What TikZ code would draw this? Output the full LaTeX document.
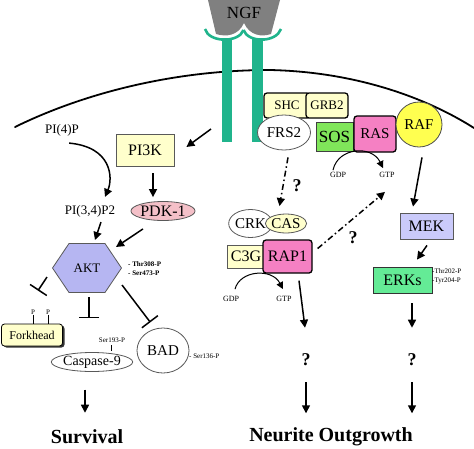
\documentclass[tikz,border=0pt]{standalone}
\usepackage{fontspec}
\setmainfont{Liberation Serif}
\usetikzlibrary{arrows.meta,calc,shapes.geometric}
\definecolor{rec}{RGB}{32,180,140}
\definecolor{ngfgray}{RGB}{128,128,128}
\definecolor{lyellow}{RGB}{255,255,204}
\definecolor{pdkpink}{RGB}{244,192,200}
\definecolor{aktblue}{RGB}{182,182,242}
\definecolor{sosgreen}{RGB}{128,230,90}
\definecolor{raspink}{RGB}{245,128,195}
\definecolor{rafyellow}{RGB}{255,255,80}
\definecolor{meklav}{RGB}{202,202,250}
\definecolor{erkgreen}{RGB}{100,235,150}
\newcommand\fz[1]{\fontsize{#1}{#1}\selectfont}
\tikzset{
  arr/.style={line width=1.5pt,-{Triangle[length=8pt,width=8pt]}},
  inh/.style={line width=1.5pt,-{Bar[width=20pt,line width=1.5pt]}},
  dd/.style={line width=1.5pt,dash pattern=on 6pt off 3pt on 1.5pt off 3pt,-{Triangle[length=8pt,width=8pt]}},
  thin/.style={line width=1pt,-{Triangle[length=7pt,width=7pt]}},
  boxn/.style={draw=black!65,line width=0.8pt,inner sep=0pt,text=black},
  darkbox/.style={draw=black,line width=1.3pt,inner sep=0pt,rounded corners=3pt,text=black},
  ell/.style={ellipse,draw=black!65,line width=0.8pt,inner sep=0pt,text=black},
  lbl/.style={inner sep=0pt,font=\fz{13}},
  tiny/.style={inner sep=0pt,font=\fz{7}},
  qm/.style={inner sep=0pt,font=\fz{18}\bfseries},
  outcome/.style={inner sep=0pt,font=\fz{20}\bfseries}
}
\begin{document}
\begin{tikzpicture}[x=1pt,y=-1pt]
\useasboundingbox (0,0) rectangle (474,448);
% membrane
\draw[line width=1.8pt,line cap=round] (15,127) .. controls (80,95) and (170,70) .. (270,70) .. controls (360,72) and (430,100) .. (474,128);
% NGF
\fill[ngfgray] (208,0) -- (280,0) -- (271,34) .. controls (262,37) and (250,36) .. (244,23) .. controls (238,36) and (226,37) .. (216,34) -- cycle;
\node[inner sep=0pt,font=\fz{17}] (ngf) at (244,13) {NGF};
% receptor
\node[fill=rec,minimum width=10pt,minimum height=104pt,inner sep=0pt] (r1) at (227,90) {};
\node[fill=rec,minimum width=11pt,minimum height=104pt,inner sep=0pt] (r2) at (257.5,90) {};
\draw[rec,line width=2.6pt] (205,29) .. controls (209,43) and (239,43) .. (243.5,30);
\draw[rec,line width=2.6pt] (243.5,30) .. controls (248,43) and (276,43) .. (281,29);
% left branch
\node[boxn,fill=lyellow,minimum width=58pt,minimum height=32pt,font=\fz{16}] (pi3k) at (145,150) {PI3K};
\coordinate (rs) at (211,129);
\draw[arr] (rs) -- ($(pi3k.east)+(12,-3)$);
\node[lbl] (pi4p) at (62,130) {PI(4)P};
\node[lbl] (pi34) at (90,211) {PI(3,4)P2};
\draw[arr] ($(pi4p.south east)+(-10,7)$) .. controls (112,147) and (113,178) .. ($(pi34.north)+(15,-8)$);
\node[ell,fill=pdkpink,minimum width=53pt,minimum height=19pt,font=\fz{16}] (pdk) at (163,211) {PDK-1};
\draw[arr] ($(pi3k.south)+(8,7)$) -- ($(pdk.north)+(-10,-4)$);
\coordinate (akt) at (87,268);
\fill[aktblue,draw=black!65,line width=0.8pt] ($(akt)+(-34.5,0)$) -- ($(akt)+(-18,-24.5)$) -- ($(akt)+(18,-24.5)$) -- ($(akt)+(34.5,0)$) -- ($(akt)+(18,24.5)$) -- ($(akt)+(-18,24.5)$) -- cycle;
\node[inner sep=0pt,font=\fz{13}] (aktt) at (akt) {AKT};
\draw[arr] ($(pi34.south)+(11,5)$) -- ($(akt)+(8,-28)$);
\draw[arr] ($(pdk.south)+(-20,8)$) -- ($(akt)+(29,-21)$);
\node[tiny,anchor=west,font=\fz{7}\bfseries] (t308) at (128,264) {- Thr308-P};
\node[tiny,anchor=west,font=\fz{7}\bfseries] (s473) at (128,273.5) {- Ser473-P};
% targets
\fill[black!80,rounded corners=3pt] (3.5,325.5) rectangle (64.5,347.5);
\node[boxn,draw=black,fill=lyellow,rounded corners=3pt,minimum width=61pt,minimum height=22pt,font=\fz{12}] (fork) at (32,335) {Forkhead};
\node[tiny] (p1) at (33,312.5) {P};
\node[tiny] (p2) at (48,312.5) {P};
\draw[line width=0.6pt] (p1.south) -- (p1.south |- fork.north);
\draw[line width=0.6pt] (p2.south) -- (p2.south |- fork.north);
\node[ell,fill=white,minimum width=69pt,minimum height=19pt,font=\fz{14}] (casp) at (92,362) {Caspase-9};
\node[tiny] (s193) at (112,340.5) {Ser193-P};
\draw[line width=0.6pt] (111,345) -- (111,351);
\node[ell,fill=white,minimum width=52pt,minimum height=45pt,font=\fz{15}] (bad) at (163,350.5) {BAD};
\node[tiny,anchor=west] (s136) at (189,356.5) {- Ser136-P};
\draw[inh] ($(akt)+(-40,9)$) -- ($(fork.north)+(6,-33)$);
\draw[inh] ($(akt)+(2,29)$) -- ($(casp.north)+(-3,-34)$);
\draw[inh] ($(akt)+(35,17)$) -- ($(bad.north west)+(6,-12)$);
\node[outcome] (surv) at (87,437) {Survival};
\draw[arr] ($(surv.north)+(-2,-40)$) -- ($(surv.north)+(-2,-17)$);
% right branch
\node[darkbox,fill=lyellow,minimum width=46pt,minimum height=25pt,font=\fz{13}] (shc) at (287,105.5) {SHC};
\node[darkbox,fill=lyellow,minimum width=42pt,minimum height=25pt,font=\fz{13}] (grb) at (327,105.5) {GRB2};
\node[ell,fill=white,minimum width=53pt,minimum height=35pt,font=\fz{15}] (frs) at (284,132.5) {FRS2};
\node[boxn,draw=black!75,fill=sosgreen,minimum width=37pt,minimum height=29pt,font=\fz{17}] (sos) at (334.5,136.5) {SOS};
\node[darkbox,fill=raspink,minimum width=42pt,minimum height=36pt,font=\fz{15}] (ras) at (375,134) {RAS};
\node[ell,draw=black!70,fill=rafyellow,minimum width=46pt,minimum height=45pt,font=\fz{15}] (raf) at (419,124.5) {RAF};
\node[tiny,font=\fz{8}] (gdp1) at (338,175) {GDP};
\node[tiny,font=\fz{8}] (gtp1) at (387,175) {GTP};
\draw[thin] ($(gdp1.north)+(-5,-2)$) .. controls (338,147) and (372,145) .. ($(gtp1.north)+(-4,-4)$);
\node[ell,fill=white,minimum width=35pt,minimum height=28pt,font=\fz{15}] (crk) at (250.5,223.5) {CRK};
\node[ell,fill=lyellow,minimum width=39pt,minimum height=19pt,font=\fz{15}] (cas) at (286,223.5) {CAS};
\node[boxn,fill=lyellow,minimum width=38pt,minimum height=23pt,font=\fz{16}] (c3g) at (246,256.5) {C3G};
\node[darkbox,fill=raspink,minimum width=49pt,minimum height=33pt,font=\fz{16}] (rap) at (287.5,256.5) {RAP1};
\node[tiny,font=\fz{8}] (gdp2) at (231,299) {GDP};
\node[tiny,font=\fz{8}] (gtp2) at (284,299) {GTP};
\draw[thin] ($(gdp2.north)+(4,-7)$) .. controls (240,270) and (272,268) .. ($(gtp2.north)+(-1,-7)$);
\draw[dd] ($(frs.south)+(4,7)$) -- ($(crk.north)+(29,-3)$);
\node[qm] (q1) at (297,186) {?};
\draw[dd] ($(rap.east)+(5,-8)$) -- ($(gtp1.south)+(-2,14)$);
\node[qm] (q2) at (353,238) {?};
\node[boxn,fill=meklav,minimum width=53pt,minimum height=26pt,font=\fz{16}] (mek) at (426.5,226) {MEK};
\node[boxn,draw=black!80,fill=erkgreen,minimum width=59pt,minimum height=26pt,font=\fz{16}] (erk) at (402.5,280) {ERKs};
\draw[arr] ($(raf.south)+(3,10)$) -- ($(mek.north)+(-13.5,-6)$);
\draw[arr] ($(mek.south)+(0.5,6)$) -- ($(erk.north)+(14.5,-7)$);
\node[tiny,anchor=west] (t202) at (432,271) {-Thr202-P};
\node[tiny,anchor=west] (t204) at (432,281) {-Tyr204-P};
\node[qm] (q3) at (306,360) {?};
\node[qm] (q4) at (412,360) {?};
\draw[arr] ($(rap.south)+(11.5,7)$) -- ($(q3.north)+(-1,-26)$);
\draw[arr] ($(q3.south)+(0,16)$) -- ($(q3.south)+(0,47)$);
\draw[arr] ($(erk.south)+(9.5,10)$) -- ($(q4.north)+(0,-26)$);
\draw[arr] ($(q4.south)+(0,16)$) -- ($(q4.south)+(0,47)$);
\node[outcome] (neur) at (331,437) {Neurite Outgrowth};
\end{tikzpicture}
\end{document}
